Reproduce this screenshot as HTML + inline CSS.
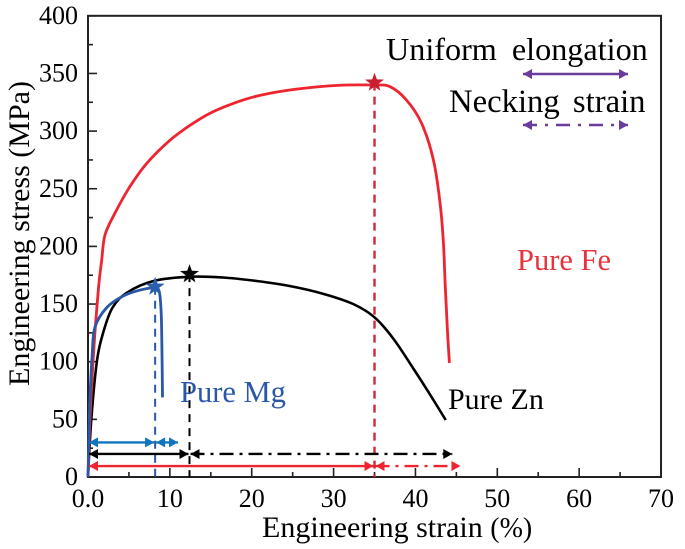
<!DOCTYPE html>
<html>
<head>
<meta charset="utf-8">
<style>
html,body{margin:0;padding:0;background:#fff;width:685px;height:549px;overflow:hidden}
svg{display:block}
text{font-family:"Liberation Serif",serif}
</style>
</head>
<body>
<svg id="chart" width="685" height="549" viewBox="0 0 685 549" xmlns="http://www.w3.org/2000/svg"></svg>
<script>
const xTicks = [0, 10, 20, 30, 40, 50, 60, 70];
const xTickLabels = ['0.0', '10', '20', '30', '40', '50', '60', '70'];
const yTicks = [0, 50, 100, 150, 200, 250, 300, 350, 400];
const feStrain = [0, 0.3, 0.8, 1.3, 1.67, 2.08, 3.3, 5.13, 7.17, 10, 12.46, 14.9, 17.75, 21, 25, 30, 34.9, 36.9, 38.9, 40.75, 42.2, 43, 43.4, 43.65, 43.9, 44.15];
const feStress = [0, 60, 120, 165, 188, 210, 229, 252, 272, 292, 305, 315.5, 324, 331, 336, 339.5, 340, 338.5, 327, 306.8, 275, 238, 205, 165, 128, 99];
const znStrain = [0, 0.4, 1.1, 1.85, 3, 4.8, 8, 12.46, 16.5, 20.6, 24.7, 28.7, 32.4, 35, 37.3, 39.75, 42.2, 43.7];
const znStress = [0, 50, 101, 125, 147, 160, 170, 173.7, 173, 170, 165.6, 159, 150, 138.5, 120, 94, 66.8, 49.4];
const mgStrain = [0, 0.2, 0.5, 0.85, 2.3, 4.3, 6.3, 8, 8.7, 8.95, 9.05, 9.1];
const mgStress = [0, 60, 105, 130, 147, 157, 162, 164, 161, 140, 100, 69];
const peakStrain = [8.2, 12.4, 35];
const peakStress = [165, 176, 342];
const arrowLevels = [30, 20, 9.5];
const neckEnds = [11, 44.5, 45.5];
const seriesColors = ['#2a57a8', '#000000', '#d0283a'];

const NS = 'http://www.w3.org/2000/svg';
const svg = document.getElementById('chart');
const X = v => 88 + v * 8.186;
const Y = v => 477 - v * 1.153;

function el(tag, attrs, text) {
  const e = document.createElementNS(NS, tag);
  for (const k in attrs) e.setAttribute(k, attrs[k]);
  if (text !== undefined) e.textContent = text;
  svg.appendChild(e);
  return e;
}
function smooth(xs, ys) {
  const p = xs.map((x, i) => [X(x), Y(ys[i])]);
  let d = 'M' + p[0][0].toFixed(1) + ' ' + p[0][1].toFixed(1);
  for (let i = 0; i < p.length - 1; i++) {
    const a = p[Math.max(i - 1, 0)], b = p[i], c = p[i + 1], e = p[Math.min(i + 2, p.length - 1)];
    d += ' C' + (b[0] + (c[0] - a[0]) / 6).toFixed(1) + ' ' + (b[1] + (c[1] - a[1]) / 6).toFixed(1) +
         ' ' + (c[0] - (e[0] - b[0]) / 6).toFixed(1) + ' ' + (c[1] - (e[1] - b[1]) / 6).toFixed(1) +
         ' ' + c[0].toFixed(1) + ' ' + c[1].toFixed(1);
  }
  return d;
}
function starPoints(cx, cy, R) {
  const r = R * 0.4;
  const pts = [];
  for (let i = 0; i < 10; i++) {
    const a = -Math.PI / 2 + i * Math.PI / 5;
    const q = i % 2 ? r : R;
    pts.push((cx + q * Math.cos(a)).toFixed(1) + ',' + (cy + q * Math.sin(a)).toFixed(1));
  }
  return pts.join(' ');
}
function head(x, y, dir, color, len, half) {
  const h = el('polygon', { points: x + ',' + y + ' ' + (x - dir * len) + ',' + (y - half) + ' ' + (x - dir * len) + ',' + (y + half), fill: color });
  
  
}
function span(x1, x2, y, color, dash, name) {
  const l = el('line', { x1: x1, x2: x2, y1: y, y2: y, stroke: color, 'stroke-width': 2.4 });
  if (dash) l.setAttribute('stroke-dasharray', dash);
  
  
  head(x1, y, -1, color, 9, 5);
  head(x2, y, 1, color, 9, 5);
}

// frame
const frame = el('rect', { x: X(0), y: Y(400), width: X(70) - X(0), height: Y(0) - Y(400), fill: 'none', stroke: '#222', 'stroke-width': 2 });



// x ticks
xTicks.forEach((v, i) => {
  const t = el('line', { x1: X(v), x2: X(v), y1: Y(0), y2: Y(0) - 9, stroke: '#222', 'stroke-width': 1.6 });
  
  
  if (i < xTicks.length - 1) {
    const m = el('line', { x1: X(v + 5), x2: X(v + 5), y1: Y(0), y2: Y(0) - 5, stroke: '#222', 'stroke-width': 1.6 });
    
    
  }
  const lab = el('text', { x: X(v), y: 507, 'font-size': 26, 'text-anchor': 'middle', fill: '#000' }, xTickLabels[i]);
  
  
});
// y ticks
yTicks.forEach((v, i) => {
  const t = el('line', { x1: X(0), x2: X(0) + 9, y1: Y(v), y2: Y(v), stroke: '#222', 'stroke-width': 1.6 });
  
  
  if (i < yTicks.length - 1) {
    const m = el('line', { x1: X(0), x2: X(0) + 5, y1: Y(v + 25), y2: Y(v + 25), stroke: '#222', 'stroke-width': 1.6 });
    
    
  }
  const lab = el('text', { x: 78, y: Y(v) + 8, 'font-size': 26, 'text-anchor': 'end', fill: '#000' }, String(v));
  
  
});

// drop lines to peaks
peakStrain.forEach((v, i) => {
  const d = el('line', { x1: X(v), x2: X(v), y1: Y(peakStress[i]), y2: Y(0), stroke: seriesColors[i], 'stroke-width': i === 2 ? 2.4 : 2, 'stroke-dasharray': '8 6' });
  
  
});

// curves
const curveZn = el('path', { d: smooth(znStrain, znStress), fill: 'none', stroke: '#000', 'stroke-width': 2.6 });


const curveFe = el('path', { d: smooth(feStrain, feStress), fill: 'none', stroke: '#ee2430', 'stroke-width': 2.8 });


const curveMg = el('path', { d: smooth(mgStrain, mgStress), fill: 'none', stroke: '#2a57a8', 'stroke-width': 2.8 });



// peak stars
const starColors = ['#2a5fae', '#000000', '#c8202e'];
peakStrain.forEach((v, i) => {
  const s = el('polygon', { points: starPoints(X(v), Y(peakStress[i]), 10), fill: starColors[i] });
  
  
});

// strain arrows
const arrowColors = ['#0f75bc', '#000000', '#ee2430'];
peakStrain.forEach((v, i) => {
  const yy = Y(arrowLevels[i]);
  span(X(0) + 1, X(v) - 1, yy, arrowColors[i], null, 'uniform-elongation-arrow');
  span(X(v) + 1, X(neckEnds[i]), yy, arrowColors[i], '14 6 3 6', 'necking-strain-arrow');
});

// legend arrows
const legendColor = '#6a3d9a';
span(523, 628, 74, legendColor, null, 'legend-uniform-arrow');
span(523, 628, 125, legendColor, '14 8 3 8', 'legend-necking-arrow');
</script>
<svg width="685" height="549" viewBox="0 0 685 549" style="position:absolute;left:0;top:0">
  <text x="386" y="60" font-size="32.2" word-spacing="7" fill="#000">Uniform elongation</text>
  <text x="449" y="112" font-size="32.7" word-spacing="5" fill="#000">Necking strain</text>
  <text x="517" y="270" font-size="30.5" fill="#e8333c">Pure Fe</text>
  <text x="448" y="409" font-size="30" fill="#000">Pure Zn</text>
  <text x="180" y="402" font-size="30.5" fill="#2a57a8">Pure Mg</text>
  <text x="262" y="537" font-size="30" fill="#000">Engineering strain <tspan font-size="28">(%)</tspan></text>
  <text transform="translate(29,386) rotate(-90)" font-size="30" fill="#000">Engineering stress (MPa)</text>
</svg>
</body>
</html>
